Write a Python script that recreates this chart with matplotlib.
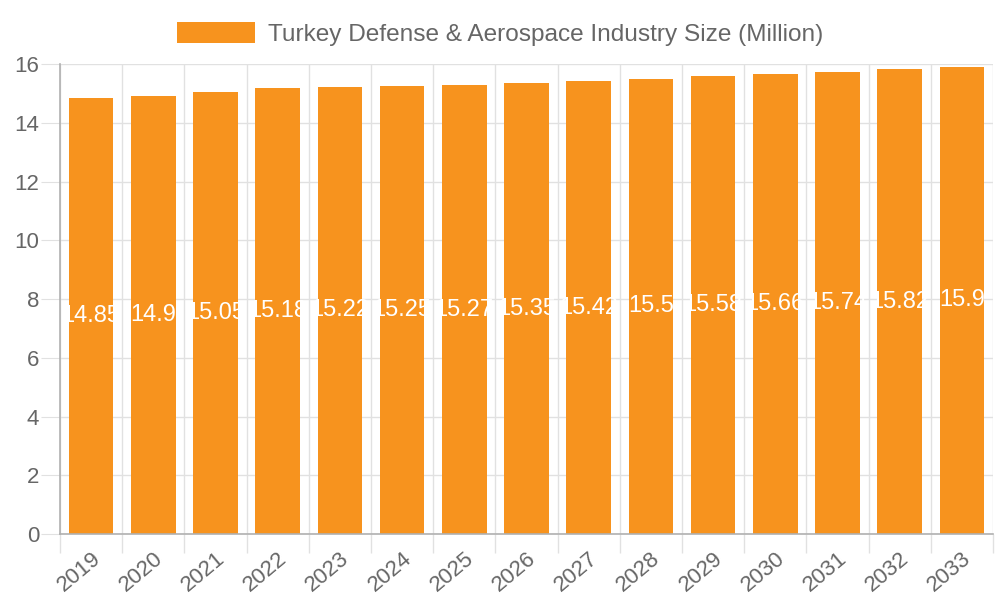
import matplotlib
matplotlib.use("Agg")
import matplotlib.pyplot as plt
import numpy as np

years = ["2019", "2020", "2021", "2022", "2023", "2024", "2025", "2026",
         "2027", "2028", "2029", "2030", "2031", "2032", "2033"]
sizes = [14.85, 14.9, 15.05, 15.18, 15.22, 15.25, 15.27, 15.35,
         15.42, 15.5, 15.58, 15.66, 15.74, 15.82, 15.9]
series_name = "Turkey Defense & Aerospace Industry Size (Million)"

orange = "#F7931E"
grey_txt = "#666666"
grid_col = "#e1e1e1"
axis_col = "#b0b0b0"

plt.rcParams["font.family"] = ["Liberation Sans", "DejaVu Sans"]

fig = plt.figure(figsize=(10, 6), dpi=100)
ax = fig.add_axes([0.06, 0.11, 0.933, 0.7833])

x = np.arange(len(years))
bars = ax.bar(x, sizes, width=0.72, color=orange, zorder=2, label=series_name)

for xi, v in zip(x, sizes):
    ax.text(xi, v / 2, "%g" % v, color="white", fontsize=17,
            ha="center", va="center", zorder=3)

ax.set_xlim(-0.5, len(years) - 0.5)
ax.set_ylim(0, 16)
ax.set_yticks(np.arange(0, 17, 2))
ax.set_xticks(x)
ax.set_xticklabels(years, rotation=40, ha="right", rotation_mode="anchor")
ax.set_xticks(np.arange(-0.5, len(years), 1), minor=True)

ax.tick_params(axis="x", which="major", length=0, pad=10, labelsize=16, labelcolor=grey_txt)
ax.tick_params(axis="x", which="minor", length=14, color=grid_col, width=1)
ax.tick_params(axis="y", length=14, color=grid_col, labelsize=16, labelcolor=grey_txt, pad=1)

ax.grid(axis="y", color=grid_col, lw=1, zorder=0)
ax.grid(axis="x", which="minor", color=grid_col, lw=1, zorder=0)
ax.grid(axis="x", which="major", visible=False)

for s in ["top", "right"]:
    ax.spines[s].set_visible(False)
for s in ["left", "bottom"]:
    ax.spines[s].set_color(axis_col)
    ax.spines[s].set_linewidth(1.2)

leg = fig.legend(handles=[bars], labels=[series_name], loc="upper center",
                 bbox_to_anchor=(0.5, 1.0), frameon=False, fontsize=17.6,
                 handlelength=3.2, handleheight=0.95, handletextpad=0.5)
for t in leg.get_texts():
    t.set_color(grey_txt)

fig.savefig("out.png", dpi=100)
